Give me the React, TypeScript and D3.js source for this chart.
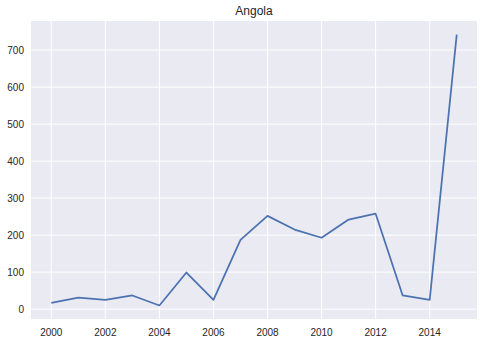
import React from "react";
import * as d3 from "d3";

const years = [2000, 2001, 2002, 2003, 2004, 2005, 2006, 2007, 2008, 2009, 2010, 2011, 2012, 2013, 2014, 2015];
const values = [17, 31, 25, 37, 10, 99, 25, 187, 252, 215, 193, 242, 258, 37, 25, 742];
const xTicks = [2000, 2002, 2004, 2006, 2008, 2010, 2012, 2014];
const yTicks = [0, 100, 200, 300, 400, 500, 600, 700];
const title = "Angola";

export default function App() {
  const W = 484, H = 343;
  const L = 31, R = 477, T = 21, B = 319;
  const xPad = (d3.max(years)! - d3.min(years)!) * 0.05;
  const x = d3.scaleLinear().domain([d3.min(years)! - xPad, d3.max(years)! + xPad]).range([L, R]);
  const yMin = d3.min(values)!, yMax = d3.max(values)!;
  const yPad = (yMax - yMin) * 0.05;
  const y = d3.scaleLinear().domain([yMin - yPad, yMax + yPad]).range([B, T]);
  const line = d3.line<number>().x((_, i) => x(years[i])).y((d) => y(d));
  const font = "'Liberation Sans', Arial, sans-serif";
  return (
    <svg width={W} height={H} style={{ position: "absolute", left: 0, top: 0 }}>
      <rect x={0} y={0} width={W} height={H} fill="#fff" />
      <rect x={L} y={T} width={R - L} height={B - T} fill="#EAEAF2" />
      {xTicks.map((t) => (
        <line key={"gx" + t} x1={x(t)} x2={x(t)} y1={T} y2={B} stroke="#fff" strokeWidth={1} />
      ))}
      {yTicks.map((t) => (
        <line key={"gy" + t} x1={L} x2={R} y1={y(t)} y2={y(t)} stroke="#fff" strokeWidth={1} />
      ))}
      <path d={line(values)!} fill="none" stroke="#4C72B0" strokeWidth={1.75} strokeLinejoin="round" />
      {xTicks.map((t) => (
        <text key={"tx" + t} x={x(t)} y={336} textAnchor="middle" fontSize={10} fontFamily={font} fill="#262626">
          {t}
        </text>
      ))}
      {yTicks.map((t) => (
        <text key={"ty" + t} x={24} y={y(t)} dy="0.35em" textAnchor="end" fontSize={10} fontFamily={font} fill="#262626">
          {t}
        </text>
      ))}
      <text x={(L + R) / 2} y={15} textAnchor="middle" fontSize={12} fontFamily={font} fill="#262626">
        {title}
      </text>
    </svg>
  );
}
